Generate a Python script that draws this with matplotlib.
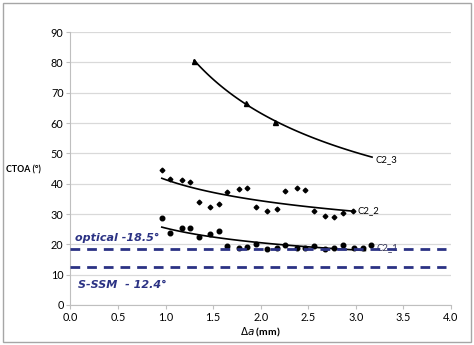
import numpy as np
import matplotlib
matplotlib.use('Agg')
import matplotlib.pyplot as plt
from matplotlib.patches import Rectangle

plt.rcParams['font.family'] = ['Lato', 'DejaVu Sans']

# C2_1 (circles)
da_c21 = [0.96, 1.045, 1.17, 1.255, 1.35, 1.47, 1.56, 1.65, 1.77, 1.86, 1.95, 2.07,
          2.17, 2.26, 2.38, 2.47, 2.56, 2.68, 2.77, 2.86, 2.98, 3.07, 3.16]
ctoa_c21 = [28.8, 23.9, 25.5, 25.5, 22.3, 23.4, 24.4, 19.4, 18.8, 19.1, 20.2, 18.5,
            18.9, 19.8, 18.7, 18.7, 19.5, 18.4, 18.9, 19.8, 18.9, 18.9, 19.8]
# C2_2 (diamonds)
da_c22 = [0.96, 1.045, 1.17, 1.255, 1.35, 1.47, 1.56, 1.65, 1.77, 1.86, 1.95, 2.07,
          2.17, 2.26, 2.38, 2.47, 2.56, 2.68, 2.77, 2.86, 2.97]
ctoa_c22 = [44.4, 41.6, 41.3, 40.6, 33.8, 32.3, 33.4, 37.2, 38.2, 38.5, 32.4, 31.0,
            31.6, 37.7, 38.7, 37.9, 31.0, 29.5, 29.1, 30.3, 31.1]
# C2_3 (triangles)
da_c23 = [1.3, 1.85, 2.15]
ctoa_c23 = [80.5, 66.6, 60.4]

# trend line extents (power fit)
fit_c21 = (0.96, 3.1)
fit_c22 = (0.96, 2.97)
fit_c23 = (1.3, 3.17)

optical = 18.5
s_ssm = 12.4

navy = '#2b3284'


def power_fit(x, y, rng):
    b, loga = np.polyfit(np.log(x), np.log(y), 1)
    xs = np.linspace(rng[0], rng[1], 100)
    return xs, np.exp(loga) * xs ** b


fig = plt.figure(figsize=(4.74, 3.45), dpi=100)
ax = fig.add_axes([0.1487, 0.116, 0.8028, 0.791])

# reference lines
ax.plot([0, 3.95], [optical, optical], color=navy, lw=2, dashes=(3.5, 2.5), zorder=4)
ax.plot([0, 3.95], [s_ssm, s_ssm], color=navy, lw=2, dashes=(3.5, 2.5), zorder=4)
ax.text(0.05, 22.2, 'optical -18.5°', color=navy, fontsize=8, fontweight='bold',
        fontstyle='italic', family=['DejaVu Sans'], va='center')
ax.text(0.08, 6.6, 'S-SSM  - 12.4°', color=navy, fontsize=8, fontweight='bold',
        fontstyle='italic', family=['DejaVu Sans'], va='center')

# data
ax.plot(da_c21, ctoa_c21, 'o', color='black', ms=3.3, zorder=3)
ax.plot(da_c22, ctoa_c22, 'D', color='black', ms=2.4, zorder=3)
ax.plot(da_c23, ctoa_c23, '^', color='black', ms=3.6, zorder=3)

for x, y, rng in [(da_c21, ctoa_c21, fit_c21), (da_c22, ctoa_c22, fit_c22),
                  (da_c23, ctoa_c23, fit_c23)]:
    xs, ys = power_fit(x, y, rng)
    ax.plot(xs, ys, color='black', lw=1.2, zorder=3)

ax.text(3.21, 47.8, 'C2_3', fontsize=6.8, va='center')
ax.text(3.02, 31.0, 'C2_2', fontsize=6.8, va='center')
ax.text(3.22, 18.8, 'C2_1', fontsize=6.8, va='center', color='#333355')

# axes
ax.set_xlim(0, 4.0)
ax.set_ylim(0, 90)
ax.set_xticks(np.arange(0, 4.01, 0.5))
ax.set_yticks(np.arange(0, 91, 10))
ax.set_xticklabels([f'{v:.1f}' for v in np.arange(0, 4.01, 0.5)])
ax.tick_params(labelsize=7.8, length=3, color='#bfbfbf', pad=2)
ax.grid(axis='y', color='#d9d9d9', lw=0.9)
ax.set_axisbelow(True)
for s in ['top', 'right']:
    ax.spines[s].set_visible(False)
for s in ['left', 'bottom']:
    ax.spines[s].set_color('#bfbfbf')

ax.set_xlabel(r'$\bf{\it{\Delta a}}$ (mm)', fontsize=7.5, fontweight='bold', labelpad=2)
fig.text(0.012, 0.507, 'CTOA (°)', fontsize=6.3, fontweight='bold', va='center')

# outer frame
fig.patches.append(Rectangle((0.006, 0.009), 0.988, 0.982, transform=fig.transFigure,
                             fill=False, edgecolor='#a6a6a6', lw=1))

fig.savefig('out.png', dpi=100)
